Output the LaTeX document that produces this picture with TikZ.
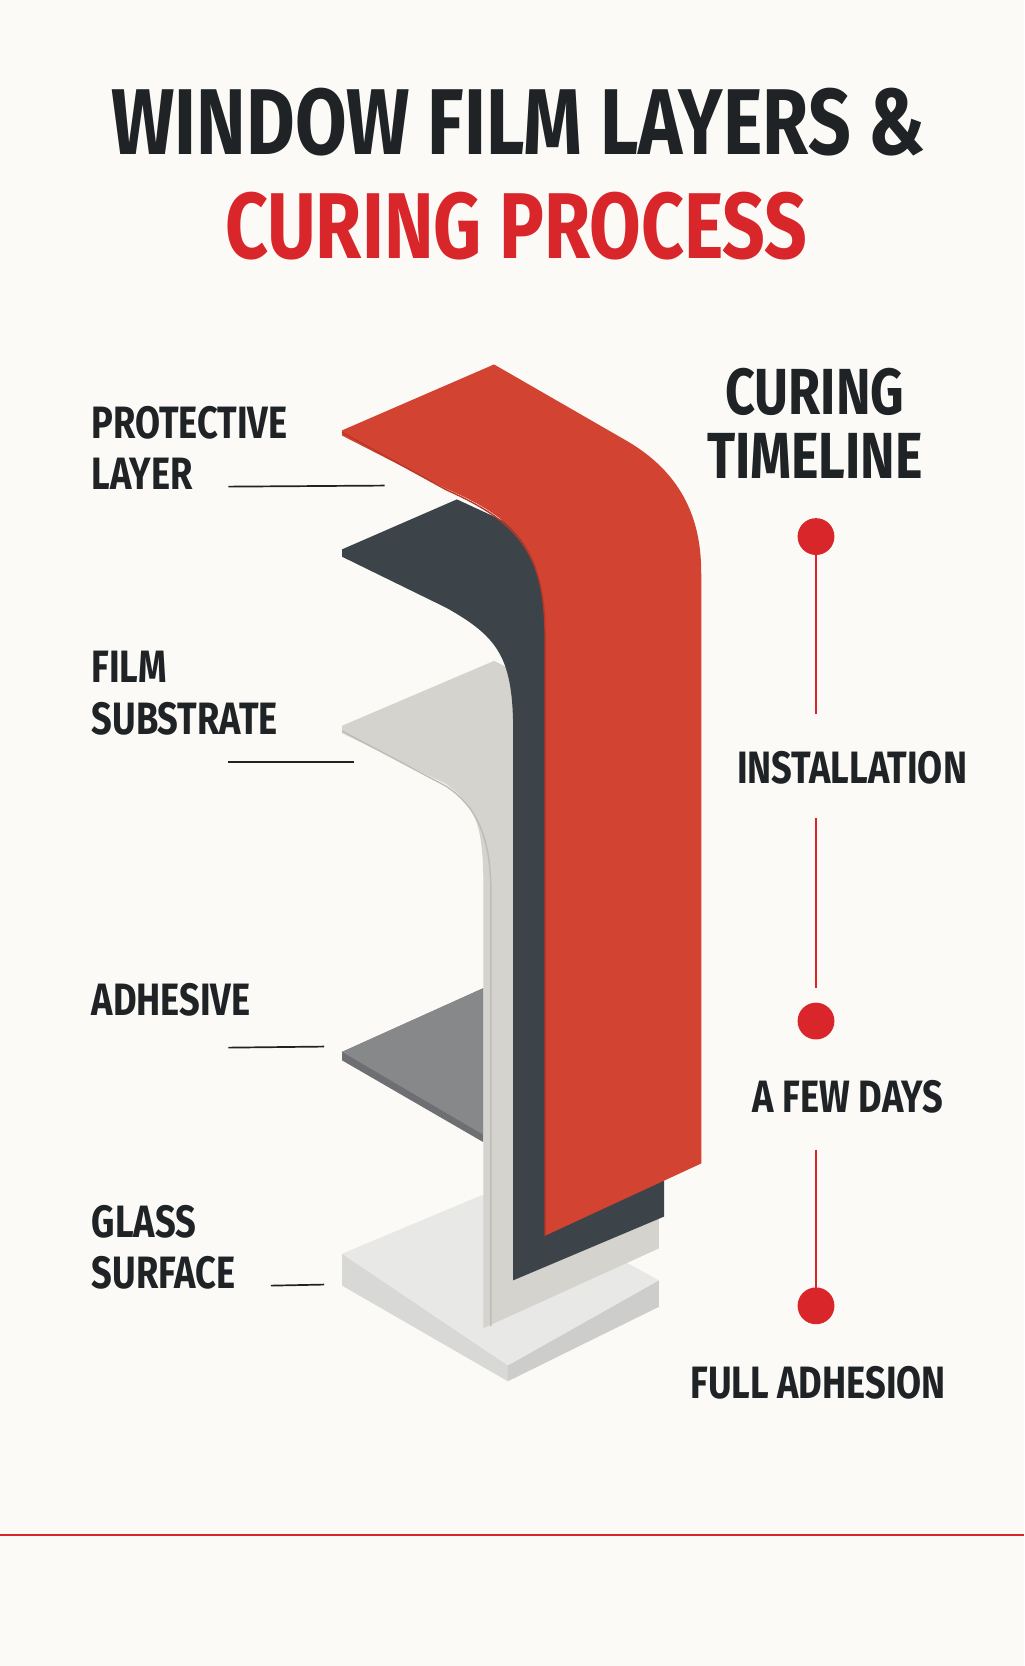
\documentclass[tikz,border=0pt]{standalone}
\usepackage{fontspec}
\setmainfont{Fira Sans}[FakeStretch=0.8,UprightFont=* SemiBold,BoldFont=* Bold]
\begin{document}
\begin{tikzpicture}[x=0.75pt,y=-0.75pt]
\definecolor{bg}{HTML}{FBFAF6}\definecolor{ink}{HTML}{1F2326}\definecolor{rd}{HTML}{D9262A}
\definecolor{lay}{HTML}{D34331}\definecolor{dk}{HTML}{3D4449}\definecolor{sub}{HTML}{D5D3CD}
\definecolor{gla}{HTML}{D8D8D6}\definecolor{glb}{HTML}{CDCDCB}\definecolor{glc}{HTML}{E8E8E6}
\definecolor{ada}{HTML}{6E6F72}\definecolor{adb}{HTML}{87888A}\definecolor{sube}{HTML}{BEBCB7}
\definecolor{laye}{HTML}{B93728}
\tikzset{lbl/.style={anchor=base west,font=\fontsize{32}{34}\selectfont\bfseries,text=ink,inner sep=0},
 tl/.style={anchor=base,font=\fontsize{32}{34}\selectfont\bfseries,text=ink,inner sep=0},
 ldr/.style={ink,line width=1.2pt},dot/.style={circle,fill=rd,minimum size=26pt,inner sep=0}}
\fill[bg] (0,0) rectangle (964,1568);
\useasboundingbox (0,0) rectangle (964,1568);
\node[anchor=base,font=\fontsize{66}{70}\selectfont\bfseries,text=ink,inner sep=0] (t1) at (488,145) {WINDOW FILM LAYERS \&};
\node[anchor=base,font=\fontsize{66}{70}\selectfont\bfseries,text=rd,inner sep=0] (t2) at (486,243) {CURING PROCESS};
% glass
\fill[gla] (322,1180)--(478,1285)--(478,1300)--(322,1210)--cycle;
\fill[glb] (478,1285)--(620,1205)--(620,1230)--(478,1300)--cycle;
\fill[glc] (322,1180)--(465,1120)--(620,1205)--(478,1285)--cycle;
% adhesive
\fill[ada] (322,990)--(455,930)--(455,1075)--(322,998)--cycle;
\fill[adb] (322,990)--(455,930)--(455,1068)--cycle;
% substrate
\fill[sub] (322,683)--(465,622)--(620,700)--(620,1175)--(455,1250)--(455,840) .. controls (455,780) and (450,760) .. (420,738)--(322,690)--cycle;
\draw[sube,line width=1pt] (322,688)--(420,740) .. controls (450,760) and (462,790) .. (462,840)--(462,1248);
% dark
\fill[dk] (322,517)--(430,470)--(625,560)--(625,1145)--(483,1205)--(483,690) .. controls (483,620) and (470,600) .. (420,572)--(322,524)--cycle;
% red
\fill[lay] (322,405)--(465,343)--(590,415) .. controls (650,450) and (660,500) .. (660,540)--(660,1095)--(513,1163)--(513,600) .. controls (513,520) and (490,490) .. (420,460)--(322,410)--cycle;
\draw[laye,line width=1pt] (322,407)--(420,461) .. controls (490,492) and (513,522) .. (513,600)--(513,1163);
% labels
\node[lbl] (p1) at (86,413) {PROTECTIVE};
\node[lbl] (p2) at (86,461) {LAYER};
\coordinate (p3) at (362,457);\coordinate (p4) at (215,458);
\draw[ldr] (p4) -- (p3);
\node[lbl] (f1) at (86,642) {FILM};
\node[lbl] (f2) at (86,691) {SUBSTRATE};
\coordinate (f3) at (333,717);\coordinate (f4) at (215,717);
\draw[ldr] (f4) -- (f3);
\node[lbl] (a1) at (86,956) {ADHESIVE};
\coordinate (a3) at (305,985);\coordinate (a4) at (215,986);
\draw[ldr] (a4) -- (a3);
\node[lbl] (g1) at (86,1165) {GLASS};
\node[lbl] (g2) at (86,1213) {SURFACE};
\coordinate (g3) at (305,1209);\coordinate (g4) at (255,1210);
\draw[ldr] (g4) -- (g3);
% timeline
\node[anchor=base,font=\fontsize{46}{50}\selectfont\bfseries,text=ink,inner sep=0] (h1) at (767,390) {CURING};
\node[anchor=base,font=\fontsize{46}{50}\selectfont\bfseries,text=ink,inner sep=0] (h2) at (767,450) {TIMELINE};
\node[dot] (d1) at (768,505) {};
\node[dot] (d2) at (768,961) {};
\node[dot] (d3) at (768,1229) {};
\node[tl] (l1) at (802,737) {INSTALLATION};
\node[tl] (l2) at (798,1047) {A FEW DAYS};
\node[tl] (l3) at (770,1316) {FULL ADHESION};
\coordinate (c1) at (768,672);\coordinate (c2) at (768,770);\coordinate (c3) at (768,930);\coordinate (c4) at (768,1082);\coordinate (c5) at (768,1212);
\draw[rd,line width=2pt] (d1) -- (c1) (c2) -- (c3) (c4) -- (c5);
\coordinate (b1) at (0,1445);\coordinate (b2) at (964,1445);
\draw[rd,line width=1.5pt] (b1) -- (b2);
\end{tikzpicture}
\end{document}
